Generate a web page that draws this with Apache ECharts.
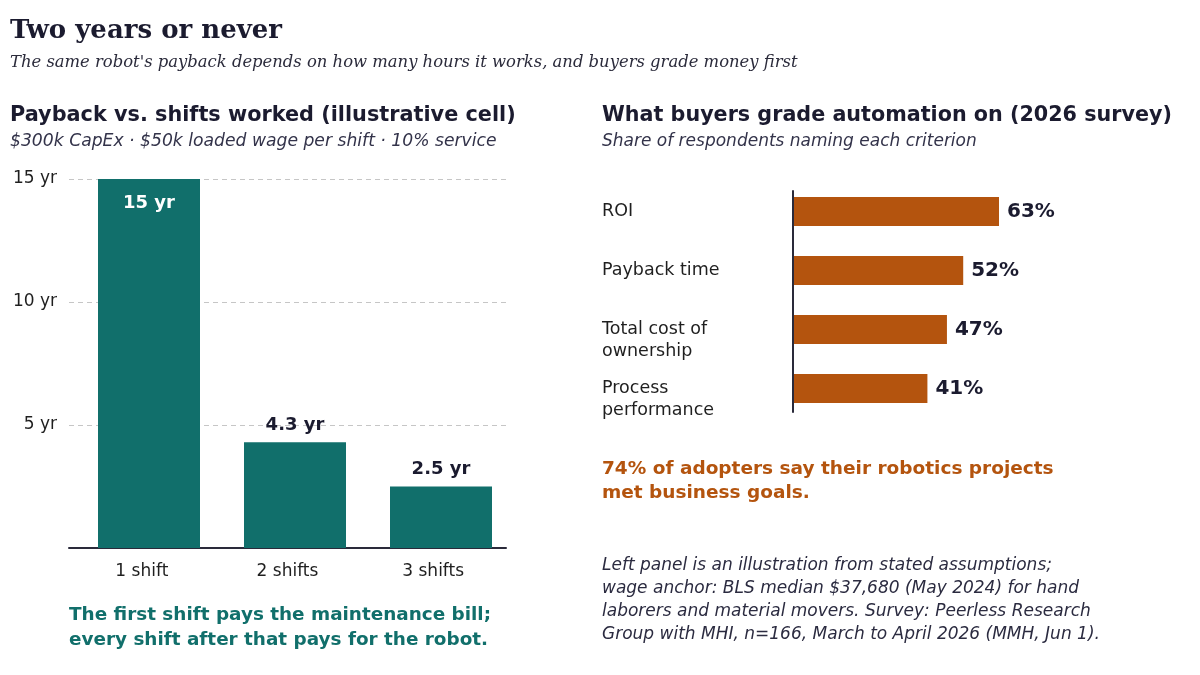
<!DOCTYPE html>
<html>
<head>
<meta charset="utf-8">
<script src="https://cdn.jsdelivr.net/npm/echarts@6/dist/echarts.min.js"></script>
<style>
  html, body { margin: 0; padding: 0; background: #fff; }
  #main { width: 1200px; height: 675px; }
</style>
</head>
<body>
<div id="main"></div>
<script>
// left panel: payback years by shifts worked
var shiftLabels = ['1 shift', '2 shifts', '3 shifts'];
var paybackYears = [15, 4.3, 2.5];
var yearTicks = [0, 5, 10, 15];

// right panel: survey criteria
var criteria = ['ROI', 'Payback time', 'Total cost of\nownership', 'Process\nperformance'];
var criteriaShare = [63, 52, 47, 41];

var TEAL = '#116f6b';
var ORANGE = '#b4540e';
var INK = '#1b1b2f';
var SANS = '"DejaVu Sans", Verdana, sans-serif';
var SERIF = '"DejaVu Serif", Georgia, serif';

var myChart = echarts.init(document.getElementById('main'));

function txt(x, y, text, font, fill, lineHeight) {
    return {
        type: 'text', x: x, y: y,
        style: { text: text, font: font, fill: fill, align: 'left', verticalAlign: 'middle', lineHeight: lineHeight || 0 }
    };
}

var option = {
    animation: false,
    backgroundColor: '#fff',
    graphic: [
        txt(10, 31, 'Two years or never', 'bold 26px ' + SERIF, INK),
        txt(10, 63, "The same robot's payback depends on how many hours it works, and buyers grade money first", 'italic 16.4px ' + SERIF, '#2b2b3b'),
        txt(10, 116, 'Payback vs. shifts worked (illustrative cell)', 'bold 20.8px ' + SANS, INK),
        txt(10, 142, '$300k CapEx · $50k loaded wage per shift · 10% service', 'italic 17.2px ' + SANS, '#33334a'),
        txt(602, 116, 'What buyers grade automation on (2026 survey)', 'bold 20.7px ' + SANS, INK),
        txt(602, 142, 'Share of respondents naming each criterion', 'italic 17px ' + SANS, '#33334a'),
        txt(69, 628, 'The first shift pays the maintenance bill;\nevery shift after that pays for the robot.', 'bold 18.4px ' + SANS, TEAL, 25),
        txt(602, 481, '74% of adopters say their robotics projects\nmet business goals.', 'bold 18.5px ' + SANS, ORANGE, 24.5),
        txt(602, 600.5, 'Left panel is an illustration from stated assumptions;\nwage anchor: BLS median $37,680 (May 2024) for hand\nlaborers and material movers. Survey: Peerless Research\nGroup with MHI, n=166, March to April 2026 (MMH, Jun 1).', 'italic 17px ' + SANS, '#2b2b40', 23)
    ],
    grid: [
        // left axes + gridlines
        { left: 69, top: 179, width: 437, height: 369 },
        // left bars
        { left: 76, top: 179, width: 438, height: 369 },
        // right axis line
        { left: 793, top: 191, width: 326, height: 221 },
        // right bars
        { left: 794, top: 182, width: 325.4, height: 236 }
    ],
    xAxis: [
        {
            gridIndex: 0, type: 'category', data: shiftLabels,
            axisLine: { lineStyle: { color: '#2a2a3a', width: 2 } },
            axisTick: { show: false },
            axisLabel: { color: '#1f1f1f', fontFamily: SANS, fontSize: 17, margin: 15 }
        },
        { gridIndex: 1, type: 'category', data: shiftLabels, show: false },
        { gridIndex: 2, type: 'value', min: 0, max: 100, show: false },
        { gridIndex: 3, type: 'value', min: 0, max: 100, show: false }
    ],
    yAxis: [
        {
            gridIndex: 0, type: 'value', min: yearTicks[0], max: yearTicks[yearTicks.length - 1], interval: 5,
            axisLine: { show: false }, axisTick: { show: false },
            axisLabel: {
                color: '#1f1f1f', fontFamily: SANS, fontSize: 17, margin: 12,
                formatter: function (v) { return v === 0 ? '' : v + ' yr'; }
            },
            splitLine: { show: true, lineStyle: { color: '#c6c6c6', type: [5, 4], width: 1 } }
        },
        { gridIndex: 1, type: 'value', min: 0, max: 15, show: false },
        {
            gridIndex: 2, type: 'category', data: criteria, inverse: true,
            axisLine: { show: true, lineStyle: { color: '#2a2a3a', width: 2 } },
            axisTick: { show: false }, axisLabel: { show: false }
        },
        {
            gridIndex: 3, type: 'category', data: criteria, inverse: true,
            axisLine: { show: false }, axisTick: { show: false },
            axisLabel: {
                interval: 0,
                color: '#1f1f1f', fontFamily: SANS, fontSize: 17.5, lineHeight: 22,
                align: 'left', margin: 192,
                // keep first line of wrapped labels level with the bar
                formatter: function (v) { return v.indexOf('\n') >= 0 ? '\n' + v : v; }
            }
        }
    ],
    series: [
        {
            type: 'bar', xAxisIndex: 1, yAxisIndex: 1, barWidth: 102,
            itemStyle: { color: TEAL },
            data: paybackYears.map(function (v, i) {
                return i === 0 ? { value: v, label: { position: 'insideTop', color: '#fff', distance: 15 } } : v;
            }),
            label: {
                show: true, position: 'top', distance: 8,
                color: INK, fontFamily: SANS, fontSize: 18, fontWeight: 'bold',
                formatter: function (p) { return p.value + ' yr'; }
            }
        },
        {
            type: 'bar', xAxisIndex: 3, yAxisIndex: 3, barWidth: 29,
            itemStyle: { color: ORANGE },
            data: criteriaShare,
            label: {
                show: true, position: 'right', distance: 8,
                color: INK, fontFamily: SANS, fontSize: 20, fontWeight: 'bold',
                formatter: '{c}%'
            }
        }
    ]
};

myChart.setOption(option);
</script>
</body>
</html>
